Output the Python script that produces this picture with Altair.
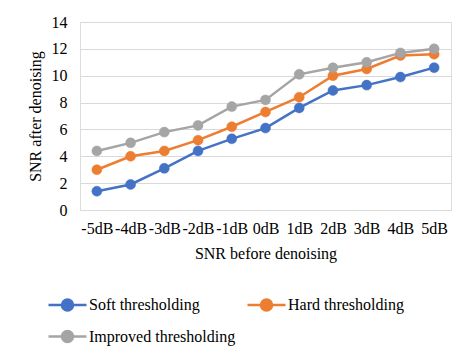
import altair as alt
import pandas as pd

snr_before = ["-5dB", "-4dB", "-3dB", "-2dB", "-1dB", "0dB", "1dB", "2dB", "3dB", "4dB", "5dB"]
soft = [1.4, 1.9, 3.1, 4.4, 5.3, 6.1, 7.6, 8.9, 9.3, 9.9, 10.6]
hard = [3.0, 4.0, 4.4, 5.2, 6.2, 7.3, 8.4, 10.0, 10.5, 11.5, 11.6]
improved = [4.4, 5.0, 5.8, 6.3, 7.7, 8.2, 10.1, 10.6, 11.0, 11.7, 12.0]
series_names = ["Soft thresholding", "Hard thresholding", "Improved thresholding"]
series_colors = ["#4472C4", "#ED7D31", "#A5A5A5"]

rows = []
for name, vals in zip(series_names, [soft, hard, improved]):
    for x, v in zip(snr_before, vals):
        rows.append({"snr": x, "val": v, "series": name})
df = pd.DataFrame(rows)

FONT = "Liberation Serif"

legend = alt.Legend(
    title=None,
    orient="none",
    direction="horizontal",
    legendX=-33,
    legendY=262,
    columns=2,
    columnPadding=6,
    rowPadding=-11,
    symbolType="M-1,0L1,0M0.29,0A0.29,0.29,0,1,1,-0.29,0A0.29,0.29,0,1,1,0.29,0Z",
    symbolSize=1444,
    symbolStrokeWidth=2.5,
    symbolOpacity=1,
    labelOffset=1,
    labelFont=FONT,
    labelFontSize=16,
    labelColor="#000000",
    labelLimit=300,
)
cscale = alt.Scale(domain=series_names, range=series_colors)
stroke = alt.Stroke("series:N", scale=cscale, legend=legend, sort=series_names)
fill = alt.Fill("series:N", scale=cscale, legend=legend, sort=series_names)

x = alt.X(
    "snr:O",
    sort=snr_before,
    scale=alt.Scale(domain=snr_before, paddingOuter=0.5),
    axis=alt.Axis(
        title="SNR before denoising",
        labelAngle=0,
        ticks=False,
        domain=False,
        labelPadding=10,
        titlePadding=9,
        labelFont=FONT, labelFontSize=16, labelColor="#000000",
        titleFont=FONT, titleFontSize=16, titleFontWeight="normal", titleColor="#000000",
    ),
)
y = alt.Y(
    "val:Q",
    scale=alt.Scale(domain=[0, 14]),
    axis=alt.Axis(
        title="SNR after denoising",
        values=[0, 2, 4, 6, 8, 10, 12, 14],
        ticks=False,
        domain=False,
        grid=True,
        gridColor="#D9D9D9",
        gridWidth=1.2,
        labelPadding=13,
        titlePadding=8,
        labelFont=FONT, labelFontSize=16, labelColor="#000000",
        titleFont=FONT, titleFontSize=16, titleFontWeight="normal", titleColor="#000000",
    ),
)

base = alt.Chart(df)
lines = base.mark_line(strokeWidth=2.5).encode(x=x, y=y, stroke=stroke, detail="series:N")
points = base.mark_point(filled=True, size=100, opacity=1, strokeWidth=0.5).encode(
    x=x, y=y, fill=fill, stroke=stroke
)

chart = alt.layer(lines, points).properties(
    width=371,
    height=188,
    autosize=alt.AutoSizeParams(type="none"),
    padding={"left": 72, "top": 14, "right": 15, "bottom": 140},
    background="#FFFFFF",
).configure_view(stroke=None).configure(font=FONT)

chart.save("out.html", embed_options={"renderer": "svg", "actions": False})
